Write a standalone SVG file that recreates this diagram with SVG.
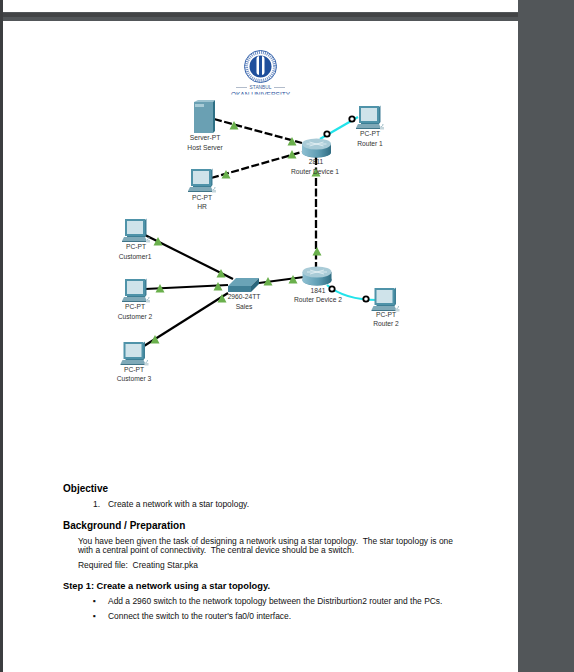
<svg xmlns="http://www.w3.org/2000/svg" width="574" height="672" viewBox="0 0 574 672">
<style>
text{font-family:"Liberation Sans",Arial,sans-serif;white-space:pre}
.l{font-size:6.700px;fill:#333;text-anchor:middle}
.h{font-size:10px;font-weight:bold;fill:#000}
.b{font-size:8.450px;fill:#111}
.d{stroke:#000;stroke-width:2.300;stroke-dasharray:8 2.500;fill:none}
.s{stroke:#000;stroke-width:2.200;fill:none}
.c{stroke:#22e3ea;stroke-width:2.200;fill:none}
.o{fill:#fff;stroke:#000;stroke-width:1.800}
.t{fill:#6ab04c}
.i{filter:url(#soft)}
</style>
<defs>
<filter id="soft" x="-10%" y="-10%" width="120%" height="120%"><feGaussianBlur stdDeviation="0.350"/></filter>
<linearGradient id="rg" x1="0" y1="0" x2="1" y2="0"><stop offset="0" stop-color="#8fc0d2"/><stop offset=".55" stop-color="#5f9db3"/><stop offset="1" stop-color="#2f6c82"/></linearGradient>
<clipPath id="lc"><rect x="225" y="40" width="75" height="54.500"/></clipPath>
<g id="pc">
<path d="M2 1 L20 1 L21.500 -0.500 L21.500 16 L20 18 L2 18 Z" fill="#3c7f95"/>
<rect x="0" y="0" width="20" height="17" fill="#4f93a9"/>
<rect x="2" y="2" width="16" height="13" fill="#cfe3ea"/>
<path d="M-1 18 L20 18 L22 22 L-3 22 Z" fill="#7fa9b8"/>
<path d="M-3 22 L22 22 L22 23 L-3 23 Z" fill="#3f7488"/>
<path d="M21 22 q4 -3 3 -4" fill="none" stroke="#9dbcc7" stroke-width="1"/>
<rect x="21" y="21" width="4" height="2.500" fill="#c5d6dc"/>
</g>
<g id="router">
<ellipse cx="0" cy="4" rx="14.500" ry="5.500" fill="#3f7e94"/>
<rect x="-14.500" y="-4" width="29" height="8" fill="url(#rg)"/>
<ellipse cx="0" cy="4.500" rx="14.500" ry="5" fill="url(#rg)"/>
<ellipse cx="0" cy="-4" rx="14.500" ry="5.500" fill="#a9cbd7"/>
<path d="M-7 -6 L7 -2 M7 -6 L-7 -2 M-10 -4 H10" stroke="#e6f1f5" stroke-width=".8"/>
</g>
</defs>
<rect width="574" height="672" fill="#525659"/>
<rect x="0" y="0" width="3" height="672" fill="#3c3e40"/>
<rect x="3" y="13" width="515" height="4" fill="#424446"/>
<rect x="3" y="0" width="515" height="12" fill="#fff"/>
<rect x="3" y="21" width="515" height="651" fill="#fff"/>
<g id="logo" clip-path="url(#lc)">
<circle cx="260.500" cy="66.500" r="16" fill="#fff" stroke="#2f5ea8" stroke-width="1"/>
<circle cx="260.500" cy="66.500" r="14" fill="none" stroke="#6f8fc4" stroke-width="3" stroke-dasharray="1 1"/>
<circle cx="260.500" cy="66.500" r="11" fill="#1f4f9c"/>
<rect x="256.500" y="56" width="8" height="19" rx="3" fill="#fff"/>
<rect x="259" y="56" width="3" height="19" fill="#1f4f9c"/>
<path d="M236 87.500H247M274 87.500H285" stroke="#7d8ea8" stroke-width=".6"/>
<text x="260.500" y="89" text-anchor="middle" font-size="4.800" fill="#3a5f9a">STANBUL</text>
<text x="231" y="97" font-size="7.200" fill="#1f4f9c" textLength="59" lengthAdjust="spacingAndGlyphs">OKAN UNIVERSITY</text>
</g>
<g id="connectors">
<path class="d" d="M214 119L302 143"/>
<path class="d" d="M211 178L302 152"/>
<path class="d" d="M316 157V267"/>
<path class="c" d="M320 139L358 117"/>
<path class="c" d="M327 285Q345 300 377 300"/>
<path class="s" d="M145 235L233 279"/>
<path class="s" d="M145 289L228 285"/>
<path class="s" d="M144 346L228 293"/>
<path class="s" d="M259 283L304 277"/>
<circle class="o" cx="327" cy="134" r="2.700"/>
<circle class="o" cx="352" cy="119" r="2.700"/>
<circle class="o" cx="332" cy="289" r="2.700"/>
<circle class="o" cx="366" cy="299" r="2.700"/>
<path class="t" d="M234 121l4.500 8.500h-9zM292 137l4.500 8.500h-9zM292 150l4.500 8.500h-9zM226 170l4.500 8.500h-9zM316 168l4.500 8.500h-9zM158 237l4.500 8.500h-9zM221 269l4.500 8.500h-9zM160 284l4.500 8.500h-9zM218 282l4.500 8.500h-9zM222 294l4.500 8.500h-9zM155 335l4.500 8.500h-9zM268 277l4.500 8.500h-9zM293 275l4.500 8.500h-9zM317 247l4.500 8.500h-9z"/>
</g>
<g id="server">
<g class="i">
<path d="M194 102L198 100H215L213 102Z" fill="#9cc3d0"/>
<path d="M213 102L215 100V131L213 133Z" fill="#2f6f85"/>
<rect x="194" y="102" width="19" height="31" fill="#6aa0b3"/>
<rect x="195" y="104" width="9" height="3" fill="#a8cbd6"/>
</g>
<text class="l" x="205" y="140">Server-PT</text>
<text class="l" x="205" y="149.500">Host Server</text>
</g>
<g id="router1-device">
<use class="i" href="#router" x="316.500" y="148"/>
<text class="l" x="316" y="164">2811</text>
<text class="l" x="315" y="174">Router Device 1</text>
</g>
<g id="pc-router1">
<use class="i" href="#pc" x="359" y="106"/>
<text class="l" x="370" y="136">PC-PT</text>
<text class="l" x="370" y="145.500">Router 1</text>
</g>
<g id="pc-hr">
<use class="i" href="#pc" x="191" y="169"/>
<text class="l" x="202" y="200">PC-PT</text>
<text class="l" x="202" y="209">HR</text>
</g>
<g id="customer1">
<use class="i" href="#pc" x="125" y="219"/>
<text class="l" x="136" y="249">PC-PT</text>
<text class="l" x="135" y="258.500">Customer1</text>
</g>
<g id="customer2">
<use class="i" href="#pc" x="125" y="279"/>
<text class="l" x="135" y="309">PC-PT</text>
<text class="l" x="135" y="318.500">Customer 2</text>
</g>
<g id="customer3">
<use class="i" href="#pc" x="123.500" y="342"/>
<text class="l" x="134" y="372">PC-PT</text>
<text class="l" x="134" y="380.500">Customer 3</text>
</g>
<g id="switch">
<g class="i">
<path d="M228 286L236 278H259L251 286Z" fill="#6ba3b7"/>
<path d="M228 286H251V292H228Z" fill="#3f7f96"/>
<path d="M251 286L259 278V284L251 292Z" fill="#2c667b"/>
</g>
<text class="l" x="244" y="299">2960-24TT</text>
<text class="l" x="244" y="309">Sales</text>
</g>
<g id="router2-device">
<use class="i" href="#router" x="317" y="276"/>
<text class="l" x="318" y="293">1841</text>
<text class="l" x="318" y="302">Router Device 2</text>
</g>
<g id="pc-router2">
<use class="i" href="#pc" x="374.500" y="288"/>
<text class="l" x="386" y="317">PC-PT</text>
<text class="l" x="386" y="326">Router 2</text>
</g>
<g id="document">
<text class="h" x="63" y="492">Objective</text>
<text class="b" x="93" y="507">1.</text>
<text class="b" x="108" y="507">Create a network with a star topology.</text>
<text class="h" x="63" y="529">Background / Preparation</text>
<text class="b" x="78" y="544" textLength="375">You have been given the task of designing a network using a star topology.  The star topology is one</text>
<text class="b" x="78" y="553" textLength="276">with a central point of connectivity.  The central device should be a switch.</text>
<text class="b" x="78" y="568" textLength="120">Required file:  Creating Star.pka</text>
<text class="h" x="63" y="589" style="font-size:9.300px">Step 1: Create a network using a star topology.</text>
<text class="b" x="93" y="604">▪</text>
<text class="b" x="108" y="604">Add a 2960 switch to the network topology between the Distriburtion2 router and the PCs.</text>
<text class="b" x="93" y="619">▪</text>
<text class="b" x="108" y="619">Connect the switch to the router's fa0/0 interface.</text>
</g>
</svg>
